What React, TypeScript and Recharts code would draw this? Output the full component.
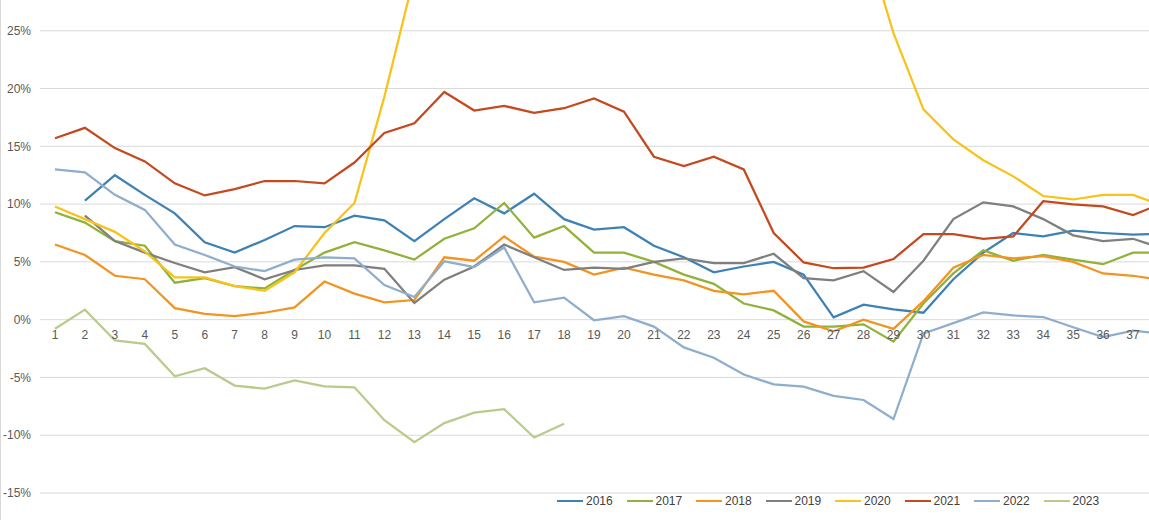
import React from 'react';
import { LineChart, Line, XAxis, YAxis, CartesianGrid, ReferenceDot } from 'recharts';

const weeks = [1, 2, 3, 4, 5, 6, 7, 8, 9, 10, 11, 12, 13, 14, 15, 16, 17, 18, 19, 20, 21, 22, 23, 24, 25, 26, 27, 28, 29, 30, 31, 32, 33, 34, 35, 36, 37, 38];
const weekLabels = [1, 2, 3, 4, 5, 6, 7, 8, 9, 10, 11, 12, 13, 14, 15, 16, 17, 18, 19, 20, 21, 22, 23, 24, 25, 26, 27, 28, 29, 30, 31, 32, 33, 34, 35, 36, 37];

const s2016 = [null, 10.3, 12.5, 10.8, 9.2, 6.7, 5.8, 6.9, 8.1, 8.0, 9.0, 8.6, 6.8, 8.7, 10.5, 9.2, 10.9, 8.7, 7.8, 8.0, 6.4, 5.4, 4.1, 4.6, 5.0, 3.9, 0.2, 1.3, 0.9, 0.6, 3.5, 5.8, 7.5, 7.2, 7.7, 7.5, 7.35, 7.45];
const s2017 = [9.3, 8.4, 6.8, 6.4, 3.2, 3.6, 2.9, 2.7, 4.3, 5.8, 6.7, 6.0, 5.2, 7.0, 7.9, 10.1, 7.1, 8.1, 5.8, 5.8, 5.0, 3.9, 3.1, 1.4, 0.8, -0.6, -0.6, -0.4, -1.9, 1.4, 4.0, 6.0, 5.1, 5.6, 5.2, 4.8, 5.8, 5.8];
const s2018 = [6.5, 5.6, 3.8, 3.5, 1.0, 0.5, 0.3, 0.6, 1.06, 3.3, 2.25, 1.5, 1.7, 5.4, 5.1, 7.2, 5.45, 5.0, 3.9, 4.5, 3.9, 3.4, 2.5, 2.2, 2.5, -0.15, -1.0, 0.0, -0.8, 1.6, 4.5, 5.6, 5.3, 5.5, 5.0, 4.0, 3.8, 3.4];
const s2019 = [null, 9.0, 6.8, 5.8, 4.9, 4.1, 4.55, 3.5, 4.3, 4.7, 4.7, 4.4, 1.45, 3.46, 4.6, 6.5, 5.4, 4.3, 4.5, 4.4, 5.0, 5.3, 4.9, 4.9, 5.7, 3.6, 3.4, 4.2, 2.4, 5.1, 8.7, 10.15, 9.8, 8.7, 7.3, 6.8, 7.0, 6.15];
const s2020 = [9.8, 8.7, 7.6, 5.9, 3.66, 3.66, 2.9, 2.5, 4.1, 7.5, 10.1, 19.3, 29.8, 38, 42, 45, 44, 46, 47, 45, 44, 43, 42, 40, 38, 37, 36, 33.4, 24.8, 18.2, 15.6, 13.8, 12.4, 10.7, 10.4, 10.8, 10.8, 9.85];
const s2021 = [15.7, 16.6, 14.85, 13.7, 11.8, 10.75, 11.3, 12.0, 12.0, 11.8, 13.6, 16.15, 17.0, 19.7, 18.1, 18.5, 17.9, 18.3, 19.15, 18.0, 14.1, 13.3, 14.1, 13.0, 7.5, 4.95, 4.45, 4.5, 5.25, 7.4, 7.4, 7.0, 7.2, 10.25, 9.97, 9.8, 9.05, 10.1];
const s2022 = [13.0, 12.75, 10.8, 9.5, 6.5, 5.6, 4.6, 4.2, 5.2, 5.4, 5.3, 3.0, 1.96, 5.05, 4.55, 6.25, 1.5, 1.9, -0.05, 0.3, -0.6, -2.4, -3.3, -4.75, -5.6, -5.8, -6.6, -6.95, -8.6, -1.2, -0.3, 0.63, 0.37, 0.23, -0.66, -1.5, -0.95, -1.25];
const s2023 = [-0.78, 0.87, -1.8, -2.1, -4.9, -4.2, -5.7, -5.97, -5.25, -5.77, -5.85, -8.7, -10.6, -8.95, -8.05, -7.75, -10.2, -9.0, null, null, null, null, null, null, null, null, null, null, null, null, null, null, null, null, null, null, null, null];

const yTicks = [-15, -10, -5, 0, 5, 10, 15, 20, 25];

const seriesNames = ['2016', '2017', '2018', '2019', '2020', '2021', '2022', '2023'];
const seriesValues = [s2016, s2017, s2018, s2019, s2020, s2021, s2022, s2023];
const seriesColors = ['#3E81B3', '#8FB23A', '#F29422', '#7F7F7F', '#F8C21C', '#C4491F', '#8FADCC', '#B7CB8C'];

const data = weeks.map((w, i) => {
  const row: Record<string, number | null> = { week: w };
  seriesNames.forEach((n, k) => {
    row[n] = seriesValues[k][i];
  });
  return row;
});

const FONT = '"Liberation Sans", Arial, sans-serif';

export default function App() {
  return (
    <div
      style={{
        position: 'absolute',
        left: 0,
        top: 0,
        width: 1149,
        height: 520,
        overflow: 'hidden',
        background: '#ffffff',
      }}
    >
      <div style={{ position: 'absolute', left: 0, top: 0, width: 1, height: 520, background: '#d9d9d9' }} />
      <div style={{ position: 'absolute', left: 0, top: -27 }}>
        <LineChart width={1178} height={547} data={data} margin={{ top: 0, right: 0, bottom: 27, left: 0 }}>
          <CartesianGrid vertical={false} stroke="#d9d9d9" />
          <XAxis dataKey="week" hide padding={{ left: 15, right: 15 }} />
          <YAxis
            width={40}
            domain={[-15, 30]}
            allowDataOverflow
            ticks={yTicks}
            axisLine={false}
            tickLine={false}
            tickSize={6}
            tickMargin={3}
            tickFormatter={(v: number) => `${v}%`}
            tick={{ fill: '#595959', fontSize: 12, fontFamily: FONT }}
          />
          {seriesNames.map((n, k) => (
            <Line
              key={n}
              type="linear"
              dataKey={n}
              stroke={seriesColors[k]}
              strokeWidth={2.25}
              dot={false}
              activeDot={false}
              isAnimationActive={false}
              connectNulls={false}
            />
          ))}
          {weekLabels.map((w) => (
            <ReferenceDot
              key={`lbl-${w}`}
              x={w}
              y={0}
              r={1}
              fill="none"
              stroke="none"
              label={{ value: String(w), position: 'bottom', offset: 10, fill: '#595959', fontSize: 12, fontFamily: FONT }}
            />
          ))}
        </LineChart>
      </div>
      <div
        style={{
          position: 'absolute',
          left: 557,
          top: 493,
          display: 'flex',
          fontFamily: FONT,
          fontSize: 12,
          color: '#404040',
          lineHeight: '16px',
        }}
      >
        {seriesNames.map((n, k) => (
          <div key={n} style={{ width: 69.5, height: 16, display: 'flex', alignItems: 'center' }}>
            <span style={{ display: 'inline-block', width: 26, height: 2, background: seriesColors[k], marginRight: 3 }} />
            <span>{n}</span>
          </div>
        ))}
      </div>
    </div>
  );
}
